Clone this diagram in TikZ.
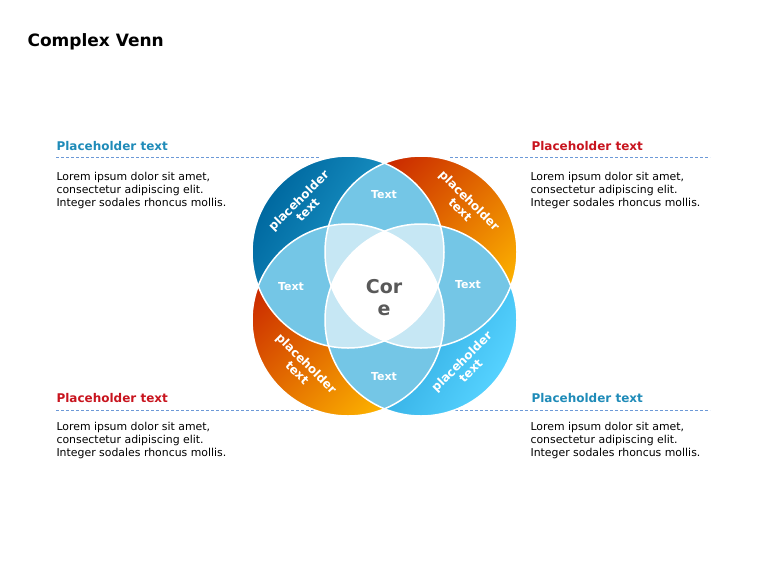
\documentclass[tikz,border=0pt]{standalone}
\usepackage{fontspec}
\setmainfont{DejaVu Sans}
\begin{document}
\begin{tikzpicture}[x=1pt,y=-1pt,
  hd/.style={font=\bfseries\fontsize{12}{14}\selectfont,anchor=west},
  body/.style={font=\fontsize{10.9}{13}\selectfont,anchor=north west,align=left},
  dl/.style={densely dashed,color=cyan!50!blue!60,line width=0.7},
  lbl/.style={text=white,font=\bfseries\fontsize{12}{13}\selectfont,align=center},
  tx/.style={text=white,font=\bfseries\fontsize{11}{13}\selectfont}]
\definecolor{pairc}{HTML}{74C6E6}
\definecolor{tripc}{HTML}{C6E7F4}
\definecolor{hblue}{HTML}{1F8BB8}
\definecolor{hred}{HTML}{C8141E}
\useasboundingbox (0,0) rectangle (768,576);
\node[anchor=west,font=\bfseries\fontsize{17}{20}\selectfont] (title) at (24,42) {Complex Venn};
\node[hd,text=hblue] (h1) at (53,146) {Placeholder text};
\node[hd,text=hred] (h2) at (528,146) {Placeholder text};
\node[hd,text=hred] (h3) at (53,398) {Placeholder text};
\node[hd,text=hblue] (h4) at (528,398) {Placeholder text};
\draw[dl] (56,157) -- (320,157);
\draw[dl] (450,157) -- (710,157);
\draw[dl] (56,410) -- (320,410);
\draw[dl] (450,410) -- (710,410);
\foreach \x/\y/\n in {53/169/b1,527/169/b2,53/419/b3,527/419/b4}
  \node[body] (\n) at (\x,\y) {Lorem ipsum dolor sit amet,\\consectetur adipiscing elit.\\Integer sodales rhoncus mollis.};
\def\r{96}
\coordinate (A) at (348,252);
\coordinate (B) at (421,252);
\coordinate (C) at (348,320);
\coordinate (D) at (421,320);
\shade[left color={rgb,255:red,0;green,105;blue,160},right color={rgb,255:red,50;green,185;blue,230},shading angle=60] (A) circle (\r);
\shade[left color={rgb,255:red,200;green,35;blue,0},right color={rgb,255:red,255;green,185;blue,0},shading angle=45] (B) circle (\r);
\shade[left color={rgb,255:red,200;green,35;blue,0},right color={rgb,255:red,255;green,185;blue,0},shading angle=45] (C) circle (\r);
\shade[left color={rgb,255:red,20;green,140;blue,200},right color={rgb,255:red,85;green,210;blue,255},shading angle=60] (D) circle (\r);
\foreach \p/\q in {A/B,A/C,B/D,C/D,A/D,B/C}{
  \begin{scope}\clip (\p) circle (\r); \fill[pairc] (\q) circle (\r);\end{scope}}
\foreach \p/\q/\s in {A/B/C,A/B/D,A/C/D,B/C/D}{
  \begin{scope}\clip (\p) circle (\r); \clip (\q) circle (\r); \fill[tripc] (\s) circle (\r);\end{scope}}
\begin{scope}\clip (A) circle (\r); \clip (B) circle (\r); \clip (C) circle (\r); \fill[white] (D) circle (\r);\end{scope}
\foreach \p in {A,B,C,D} \draw[white,line width=1.5] (\p) circle (\r);
\node[tx] (t1) at (384,195) {Text};
\node[tx] (t2) at (291,287) {Text};
\node[tx] (t3) at (468,285) {Text};
\node[tx] (t4) at (384,377) {Text};
\node[text=black!65,font=\bfseries\fontsize{19}{22}\selectfont,align=center] (core) at (384,298) {Cor\\e};
\node[lbl,rotate=45] (p1) at (303,205) {placeholder\\text};
\node[lbl,rotate=-45] (p2) at (465,205) {placeholder\\text};
\node[lbl,rotate=-45] (p3) at (302,368) {placeholder\\text};
\node[lbl,rotate=45] (p4) at (466,366) {placeholder\\text};
\end{tikzpicture}
\end{document}
